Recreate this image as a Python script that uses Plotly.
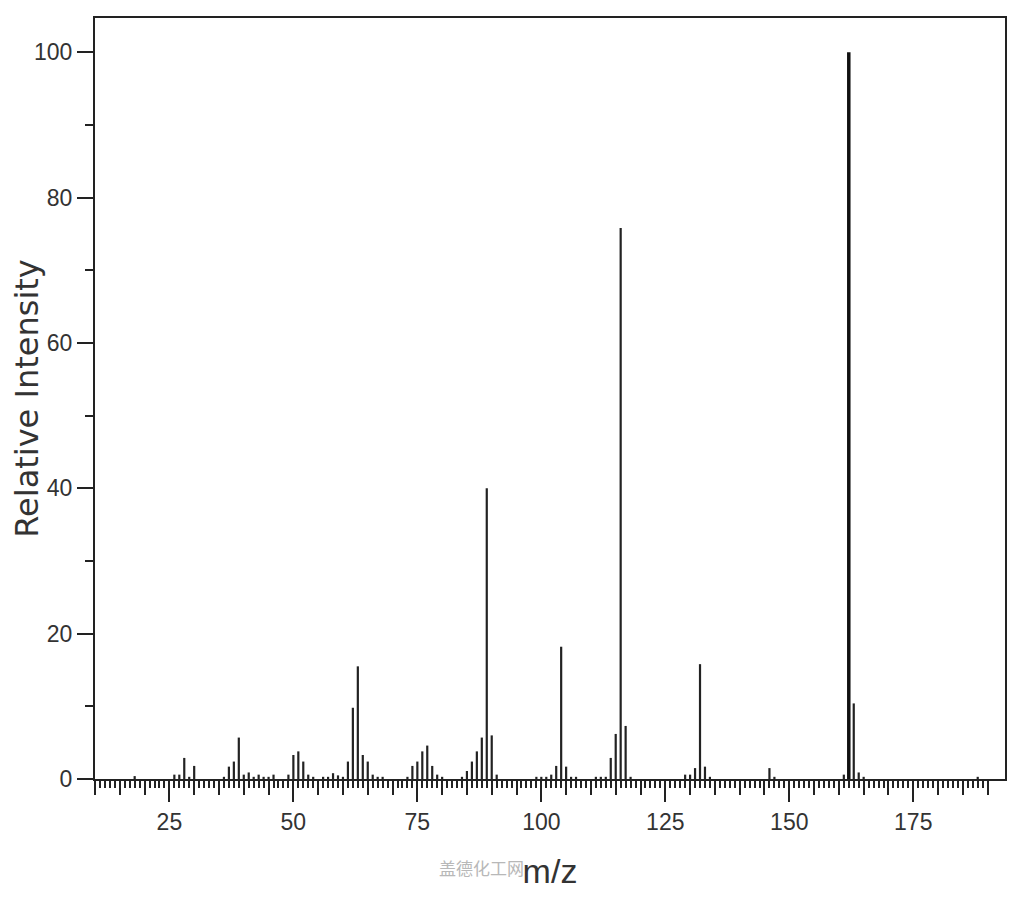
import plotly.graph_objects as go

# m/z values and relative intensities
mz = [18, 26, 27, 28, 29, 30,
      36, 37, 38, 39, 40, 41, 42, 43, 44, 45, 46,
      49, 50, 51, 52, 53, 54,
      56, 57, 58, 59, 60, 61, 62, 63, 64, 65, 66, 67, 68,
      73, 74, 75, 76, 77, 78, 79, 80,
      84, 85, 86, 87, 88, 89, 90, 91,
      99, 100, 101, 102, 103, 104, 105, 106, 107,
      111, 112, 113, 114, 115, 116, 117, 118,
      129, 130, 131, 132, 133, 134,
      146, 147,
      161, 163, 164, 165,
      188]
intensity = [0.4, 0.6, 0.6, 2.9, 0.3, 1.8,
             0.3, 1.7, 2.4, 5.7, 0.6, 0.9, 0.3, 0.6, 0.3, 0.3, 0.6,
             0.6, 3.3, 3.8, 2.4, 0.6, 0.3,
             0.3, 0.3, 0.8, 0.5, 0.3, 2.4, 9.8, 15.5, 3.3, 2.4, 0.6, 0.3, 0.3,
             0.3, 1.8, 2.4, 3.8, 4.6, 1.8, 0.6, 0.3,
             0.3, 1.1, 2.4, 3.8, 5.7, 40.0, 6.0, 0.6,
             0.3, 0.3, 0.3, 0.6, 1.8, 18.2, 1.7, 0.3, 0.3,
             0.3, 0.3, 0.3, 2.9, 6.2, 75.8, 7.3, 0.3,
             0.6, 0.6, 1.5, 15.8, 1.7, 0.3,
             1.5, 0.3,
             0.6, 10.4, 0.9, 0.3,
             0.3]
base_mz = [162]
base_intensity = [100.0]

y_tick_vals = [0, 20, 40, 60, 80, 100]
x_tick_vals = [25, 50, 75, 100, 125, 150, 175]
x_minor_ticks = list(range(10, 191))

FONT = "Liberation Sans, Arial, sans-serif"
INK = "#222222"
TEXT = "#333333"


def stems(xs, ys):
    sx, sy = [], []
    for a, b in zip(xs, ys):
        sx += [a, a, None]
        sy += [0, b, None]
    return sx, sy


fig = go.Figure()
sx, sy = stems(mz, intensity)
fig.add_trace(go.Scatter(x=sx, y=sy, mode="lines",
                         line=dict(color=INK, width=2.2),
                         hoverinfo="skip", showlegend=False))
bx, by = stems(base_mz, base_intensity)
fig.add_trace(go.Scatter(x=bx, y=by, mode="lines",
                         line=dict(color="#111111", width=3.5),
                         hoverinfo="skip", showlegend=False))
# invisible trace to hold the fine-tick overlay axis
fig.add_trace(go.Scatter(x=[10], y=[0], xaxis="x2", mode="markers",
                         marker=dict(opacity=0), hoverinfo="skip",
                         showlegend=False))

xr = [10, 193.5]
fig.update_layout(
    width=1016, height=892,
    margin=dict(l=87, r=19, t=10, b=121),
    paper_bgcolor="white", plot_bgcolor="white",
    font=dict(family=FONT, color=TEXT, size=23),
    xaxis=dict(
        range=xr, tickmode="array", tickvals=x_tick_vals, automargin=False,
        ticks="outside", ticklen=21, tickwidth=2, tickcolor=INK,
        minor=dict(dtick=5, tick0=0, ticks="outside", ticklen=14,
                   tickwidth=2, tickcolor=INK, showgrid=False),
        showline=True, linecolor=INK, linewidth=2, mirror=True,
        showgrid=False, zeroline=False,
        tickfont=dict(family=FONT, size=23, color=TEXT),
        title=dict(text="m/z", font=dict(family=FONT, size=34, color=TEXT),
                   standoff=26),
    ),
    xaxis2=dict(
        range=xr, overlaying="x", anchor="y", side="bottom", automargin=False,
        tickmode="array", tickvals=x_minor_ticks, showticklabels=False,
        ticks="outside", ticklen=8, tickwidth=2, tickcolor=INK,
        showline=False, showgrid=False, zeroline=False,
    ),
    yaxis=dict(
        range=[0, 104.7], tickmode="array", tickvals=y_tick_vals, automargin=False,
        ticks="outside", ticklen=16, tickwidth=2, tickcolor=INK,
        minor=dict(dtick=10, tick0=0, ticks="outside", ticklen=8,
                   tickwidth=2, tickcolor=INK, showgrid=False),
        showline=True, linecolor=INK, linewidth=2, mirror=True,
        showgrid=False, zeroline=False,
        tickfont=dict(family=FONT, size=23, color=TEXT),
        title=dict(text="Relative Intensity",
                   font=dict(family="DejaVu Sans, sans-serif", size=32, color=TEXT),
                   standoff=0),
    ),
    annotations=[dict(text="盖德化工网", xref="paper", yref="paper",
                      x=0.425, y=-0.135, showarrow=False,
                      font=dict(family="Noto Sans CJK SC", size=17, color="#b8b8b8"))],
)

fig.write_html("out.html")
